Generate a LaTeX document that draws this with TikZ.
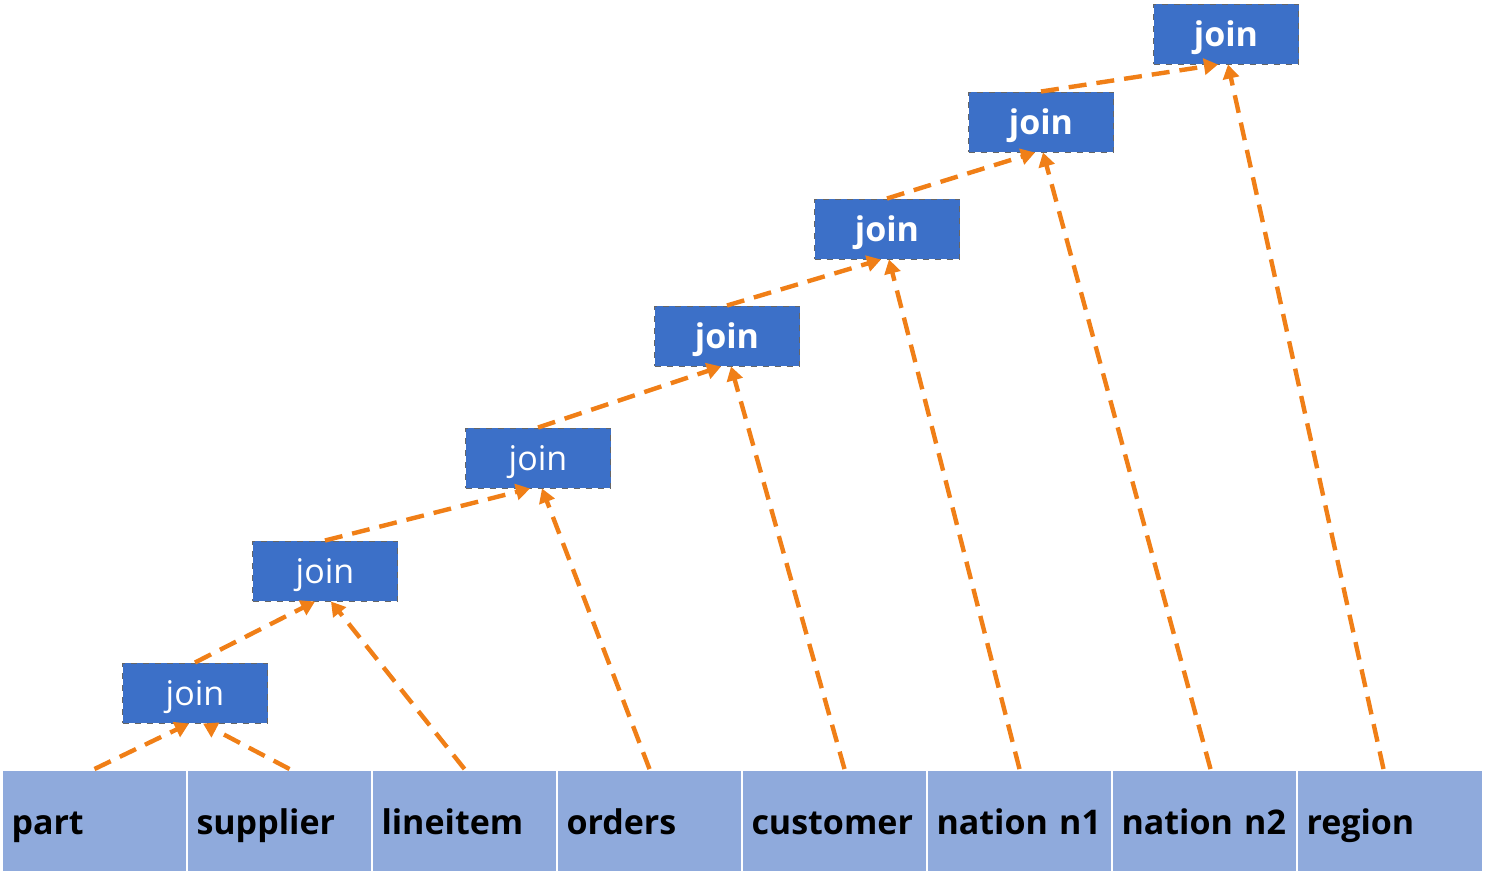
\documentclass[tikz,border=0pt]{standalone}
\usepackage{fontspec}
\setmainfont{Open Sans}
\usetikzlibrary{arrows.meta}
\definecolor{cellblue}{HTML}{8FAADC}
\definecolor{joinblue}{HTML}{3C70C8}
\definecolor{flow}{HTML}{F07F17}
\tikzset{
  cell/.style={fill=cellblue,draw=white,line width=1pt,minimum width=92.5pt,minimum height=51pt,
    text width=83pt,text height=14pt,text depth=1pt,align=left,inner xsep=5pt,inner ysep=3pt,font=\fontsize{17}{20}\selectfont\bfseries},
  joinbox/.style={fill=joinblue,draw=black!60,dashed,line width=0.5pt,minimum width=72.5pt,minimum height=30pt,
    text height=14pt,text depth=2pt,text=white,font=\fontsize{17}{20}\selectfont},
  boldjoin/.style={joinbox,font=\fontsize{17}{20}\selectfont\bfseries},
  flowline/.style={draw=flow,line width=2.2pt,dash pattern=on 9pt off 5pt,-{Triangle[length=7pt,width=8pt]}}
}
\begin{document}
\begin{tikzpicture}[x=0.5pt,y=-0.5pt]
  \useasboundingbox (0,0) rectangle (1488,880);
  % table row
  \foreach \name/\lbl [count=\i] in {part/part,supp/supplier,line/lineitem,ord/orders,cust/customer,na/nation n1,nb/nation n2,reg/region}
    \node[cell] (\name) at ({2+185*(\i-0.5)},821) {\lbl};
  % joins
  \node[joinbox] (j1) at (195,693) {join};
  \node[joinbox] (j2) at (325,571) {join};
  \node[joinbox] (j3) at (538,458) {join};
  \node[boldjoin] (j4) at (727,336) {join};
  \node[boldjoin] (j5) at (887,229) {join};
  \node[boldjoin] (j6) at (1041,122) {join};
  \node[boldjoin] (j7) at (1226,34) {join};
  % edges
  \draw[flowline] (part.north) -- ([xshift=-3pt]j1.south);
  \draw[flowline] ([xshift=5pt]supp.north) -- ([xshift=4pt]j1.south);
  \draw[flowline] (j1.north) -- ([xshift=-5pt]j2.south);
  \draw[flowline] (line.north) -- ([xshift=3pt]j2.south);
  \draw[flowline] (j2.north) -- ([xshift=-4pt]j3.south);
  \draw[flowline] (ord.north) -- ([xshift=2pt]j3.south);
  \draw[flowline] (j3.north) -- ([xshift=-3pt]j4.south);
  \draw[flowline] ([xshift=5pt]cust.north) -- ([xshift=2pt]j4.south);
  \draw[flowline] (j4.north) -- ([xshift=-3pt]j5.south);
  \draw[flowline] (na.north) -- ([xshift=1pt]j5.south);
  \draw[flowline] (j5.north) -- ([xshift=-3pt]j6.south);
  \draw[flowline] ([xshift=3pt]nb.north) -- ([xshift=1pt]j6.south);
  \draw[flowline] (j6.north) -- ([xshift=-4pt]j7.south);
  \draw[flowline] ([xshift=-3pt]reg.north) -- ([xshift=1pt]j7.south);
\end{tikzpicture}
\end{document}
